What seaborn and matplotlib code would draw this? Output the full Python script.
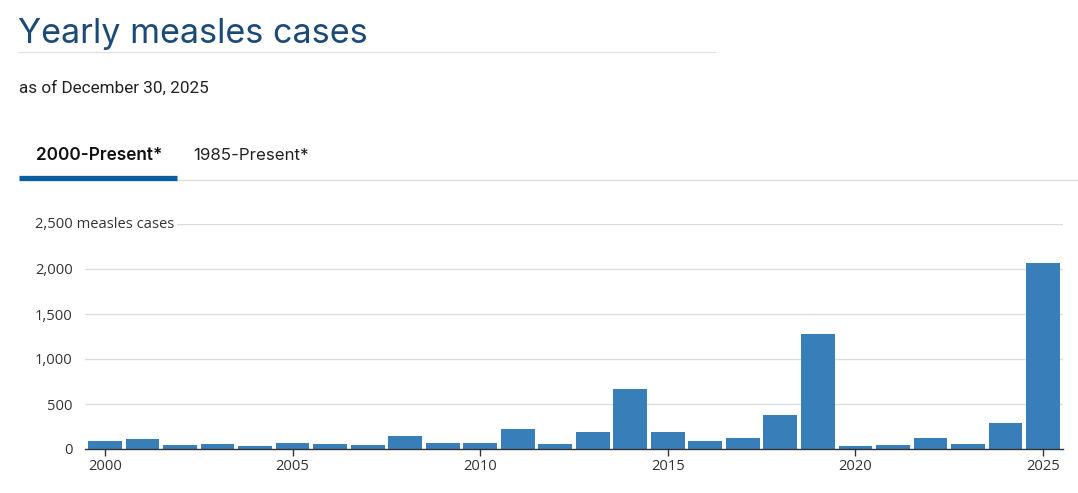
import numpy as np
import pandas as pd
import matplotlib.pyplot as plt
import matplotlib.ticker as mticker
from matplotlib.lines import Line2D
import seaborn as sns

# -----------------------------------------------------------------------------
# Data
# -----------------------------------------------------------------------------

years = [2000, 2001, 2002, 2003, 2004, 2005, 2006, 2007, 2008, 2009,
         2010, 2011, 2012, 2013, 2014, 2015, 2016, 2017, 2018, 2019,
         2020, 2021, 2022, 2023, 2024, 2025]
cases = [86, 116, 44, 56, 37, 66, 55, 43, 140, 71,
         63, 220, 55, 187, 667, 188, 86, 120, 375, 1274,
         30, 49, 121, 59, 285, 2065]

y_ticks = [0, 500, 1000, 1500, 2000]
y_top = 2500
x_ticks = [2000, 2005, 2010, 2015, 2020, 2025]

title = "Yearly measles cases"
subtitle = "as of December 30, 2025"
tab_active = "2000-Present*"
tab_other = "1985-Present*"
y_top_label = "2,500 measles cases"

df = pd.DataFrame({"year": years, "cases": cases})

# -----------------------------------------------------------------------------
# Plotting attributes
# -----------------------------------------------------------------------------

sns.set_theme(style="white")
plt.rcParams["font.family"] = ["Open Sans", "DejaVu Sans"]

W, H = 1078, 493
dpi = 100
bar_colour = "#387fba"
grid_colour = "#dcdcdc"
text_colour = "#333333"


def fx(px):
    return px / W


def fy(py):
    return 1 - py / H


fig = plt.figure(figsize=(W / dpi, H / dpi), dpi=dpi)
fig.patch.set_facecolor("white")

# Header
fig.text(fx(18), fy(43), title, fontsize=24.6, color="#1b4a78",
         family=["Inter", "DejaVu Sans"], fontweight="normal", va="baseline")
fig.add_artist(Line2D([fx(19), fx(715)], [fy(52), fy(52)], color="#e2e2e2", lw=1))
fig.text(fx(19), fy(93), subtitle, fontsize=12.3, color="#222222",
         family=["Roboto", "DejaVu Sans"], va="baseline")

# Tabs
fig.text(fx(36), fy(160), tab_active, fontsize=12.4, color="#111111",
         family=["Inter", "DejaVu Sans"], fontweight="semibold", va="baseline")
fig.text(fx(193), fy(160), tab_other, fontsize=12.2, color="#222222",
         family=["Inter", "DejaVu Sans"], va="baseline")
fig.add_artist(Line2D([fx(177), fx(1078)], [fy(180), fy(180)], color="#dddddd", lw=1))
fig.add_artist(Line2D([fx(19), fx(177)], [fy(177.5), fy(177.5)], color="#0a5e9f",
                      lw=3.8, solid_capstyle="butt"))

# -----------------------------------------------------------------------------
# Plot
# -----------------------------------------------------------------------------

ax = fig.add_axes([fx(85), fy(449), fx(1063) - fx(85), fy(224) - fy(449)])
sns.barplot(x="year", y="cases", data=df, native_scale=True, width=0.9,
            color=bar_colour, saturation=1, edgecolor="none", ax=ax)

ax.set_xlim(1999.467, 2025.533)
ax.set_ylim(0, y_top)
ax.set(xlabel=None, ylabel=None)

ax.set_yticks(y_ticks)
ax.yaxis.set_major_formatter(mticker.FuncFormatter(lambda v, p: f"{int(v):,}"))
ax.set_xticks(x_ticks)
ax.set_xticklabels([str(x) for x in x_ticks])

for v in y_ticks[1:]:
    ax.axhline(v, color=grid_colour, lw=1, zorder=0)
ax.axhline(y_top, xmin=(177 - 85) / (1063 - 85), color=grid_colour, lw=1, zorder=0)
ax.text(-50 / (1063 - 85), y_top, y_top_label, transform=ax.get_yaxis_transform(),
        ha="left", va="center", fontsize=10.6, color=text_colour)

for s in ["top", "right", "left"]:
    ax.spines[s].set_visible(False)
ax.spines["bottom"].set_color("#333333")
ax.spines["bottom"].set_linewidth(1)

ax.tick_params(axis="y", length=0, pad=9, labelsize=10.6, labelcolor=text_colour)
ax.tick_params(axis="x", length=5, width=1, color="#333333", pad=2,
               labelsize=10.6, labelcolor=text_colour, bottom=True)

plt.savefig("out.png", dpi=dpi)
